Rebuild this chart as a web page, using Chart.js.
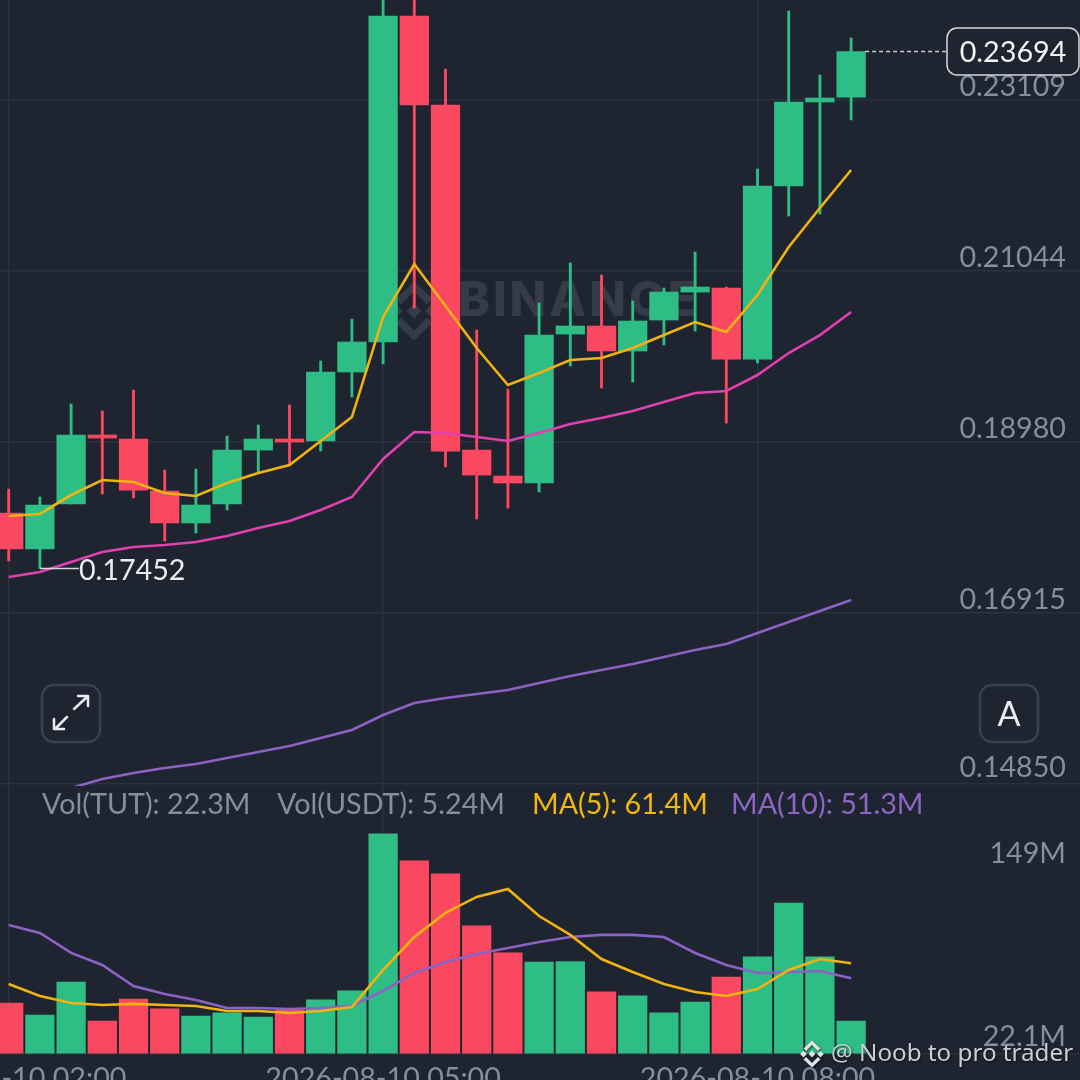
<!DOCTYPE html>
<html>
<head>
<meta charset="utf-8">
<script src="https://cdn.jsdelivr.net/npm/chart.js@4"></script>
<style>
html,body{margin:0;padding:0;background:#1f2530;width:1080px;height:1080px;overflow:hidden}
canvas{position:absolute;left:0;display:block}
#price{top:0}
#volume{top:786px}
</style>
</head>
<body>
<canvas id="price" width="1080" height="786"></canvas>
<canvas id="volume" width="1080" height="294"></canvas>
<script>
const times = ["2026-08-10 02:00","2026-08-10 02:15","2026-08-10 02:30","2026-08-10 02:45","2026-08-10 03:00","2026-08-10 03:15","2026-08-10 03:30","2026-08-10 03:45","2026-08-10 04:00","2026-08-10 04:15","2026-08-10 04:30","2026-08-10 04:45","2026-08-10 05:00","2026-08-10 05:15","2026-08-10 05:30","2026-08-10 05:45","2026-08-10 06:00","2026-08-10 06:15","2026-08-10 06:30","2026-08-10 06:45","2026-08-10 07:00","2026-08-10 07:15","2026-08-10 07:30","2026-08-10 07:45","2026-08-10 08:00","2026-08-10 08:15","2026-08-10 08:30","2026-08-10 08:45"];
const open  = [.18122,.17687,.18230,.19064,.19015,.18387,.18001,.18230,.18882,.19015,.18991,.19824,.20187,.24124,.23049,.18882,.18568,.18484,.20283,.20380,.20078,.20452,.20790,.20839,.19981,.22071,.23085,.23145];
const high  = [.18411,.18315,.19438,.19353,.19607,.18641,.18653,.19051,.19184,.19426,.19957,.20464,.24450,.24420,.23483,.20332,.19619,.20658,.21141,.20996,.20682,.20839,.21273,.20851,.22276,.24184,.23411,.23858];
const low   = [.17542,.17452,.18230,.18351,.18303,.17784,.17880,.18158,.18617,.18701,.18870,.19522,.19921,.20597,.18677,.18049,.18182,.18375,.19897,.19631,.19704,.20150,.20319,.19208,.19933,.21708,.21732,.22868];
const close = [.17687,.18218,.19064,.19027,.18399,.18001,.18218,.18882,.19015,.18979,.19824,.20187,.24124,.23049,.18870,.18580,.18484,.20271,.20380,.20078,.20440,.20790,.20851,.19981,.22071,.23085,.23133,.23694];
const maYellow = [.18085,.18110,.18339,.18520,.18496,.18363,.18327,.18484,.18605,.18701,.18991,.19281,.20489,.21129,.20621,.20114,.19667,.19812,.19969,.19993,.20114,.20271,.20428,.20307,.20754,.21334,.21805,.22264];
const maPink   = [.17349,.17409,.17530,.17651,.17711,.17735,.17771,.17844,.17940,.18025,.18158,.18315,.18774,.19100,.19088,.19039,.18991,.19088,.19196,.19269,.19353,.19462,.19571,.19595,.19788,.20054,.20271,.20549];
const maPurple = [.14644,.14716,.14801,.14909,.14982,.15042,.15091,.15163,.15235,.15308,.15405,.15501,.15682,.15827,.15888,.15936,.15984,.16069,.16153,.16226,.16298,.16383,.16467,.16540,.16673,.16805,.16938,.17071];
const volume = [34.5,26.4,48.7,22.3,37.2,30.5,25.7,27.8,25.0,29.8,36.6,42.7,149,130.7,121.9,86.7,68.4,62.3,62.5,42.0,39.3,27.8,35.2,52.1,65.7,102.2,65.7,22.3];
const volMa5  = [47.4,39.3,34.5,33.2,33.9,33.2,32.5,29.1,29.1,27.8,29.1,31.8,56.9,79.2,95.5,106.3,111.7,93.4,80.6,64.3,55.5,47.4,42.0,39.3,44.0,56.9,64.3,61.4];
const volMa10 = [87.3,81.9,68.4,60.3,46.0,40.6,36.6,31.1,31.1,30.5,31.1,32.5,42.7,54.8,62.3,67.7,71.8,75.8,79.2,80.6,80.6,79.2,68.4,60.3,54.8,55.5,56.2,51.3];
const priceTicks = [.23109,.21044,.18980,.16915,.14850];
const priceTickLabels = ["0.23109","0.21044","0.18980","0.16915","0.14850"];
const volumeTicks = [149,22.1,0];
const volumeTickLabels = ["149M","22.1M",""];
const timeTickIndexes = [0,12,24];
const lastPrice = "0.23694";
const lowLabel = "0.17452";
const legendTexts = [["Vol(TUT): 22.3M",42,"#848e9c"],["Vol(USDT): 5.24M",277,"#848e9c"],["MA(5): 61.4M",532,"#f0b90b"],["MA(10): 51.3M",731,"#8e67c6"]];

const BG="#1f2530", GRID="#2c323d", UP="#2ebd85", DOWN="#fb4861", YEL="#f0b310", PINK="#e23fb0", PUR="#8c62c4", GREY="#848e9c";
const FONT="Lato", FS=28.7;
Chart.defaults.font.family=FONT;
const colors = open.map((o,i)=>close[i]>=o?UP:DOWN);
const xs = v => v.map((y,i)=>({x:i,y}));
const xOpts = {
  type:'linear', min:-0.2788, max:34.336, offset:false,
  border:{display:false},
  grid:{color:GRID,lineWidth:1.5,drawTicks:false,offset:false},
  afterBuildTicks:s=>{s.ticks=timeTickIndexes.map(value=>({value}))},
};
function wm(ctx,x,y,s,color){
  ctx.save();ctx.translate(x,y);ctx.scale(s,s);ctx.fillStyle=color;
  const d=(cx,cy,r)=>{ctx.beginPath();ctx.moveTo(cx,cy-r);ctx.lineTo(cx+r,cy);ctx.lineTo(cx,cy+r);ctx.lineTo(cx-r,cy);ctx.closePath();ctx.fill()};
  d(0,0,4);d(-10,0,4);d(10,0,4);
  const chev=(sgn)=>{ctx.beginPath();ctx.moveTo(0,sgn*16);ctx.lineTo(10,sgn*6.5);ctx.lineTo(7,sgn*3.5);ctx.lineTo(0,sgn*10.5);ctx.lineTo(-7,sgn*3.5);ctx.lineTo(-10,sgn*6.5);ctx.closePath();ctx.fill()};
  chev(-1);chev(1);
  ctx.restore();
}
function rr(ctx,x,y,w,h,r){ctx.beginPath();ctx.roundRect(x,y,w,h,r)}

const pricePlugin={id:'priceOverlay',
  beforeDatasetsDraw(c){
    const ctx=c.ctx;ctx.save();
    wm(ctx,414,311,1.85,"#363c47");
    ctx.fillStyle="#363c47";ctx.font="800 48px Inter";ctx.textBaseline="middle";ctx.textAlign="left";
    ctx.letterSpacing="3px";
    ctx.fillText("BINANCE",458,302);
    ctx.restore();
  },
  afterDatasetsDraw(c){
    const ctx=c.ctx,x=c.scales.x,y=c.scales.y;ctx.save();
    const li=low.indexOf(Math.min(...low));
    const lx=x.getPixelForValue(li),ly=y.getPixelForValue(low[li]);
    ctx.strokeStyle="#d5d8dc";ctx.lineWidth=1.5;
    ctx.beginPath();ctx.moveTo(lx,ly);ctx.lineTo(lx+39,ly);ctx.stroke();
    ctx.fillStyle="#eaecef";ctx.font=FS+"px "+FONT;ctx.textBaseline="middle";ctx.textAlign="left";
    ctx.fillText(lowLabel,lx+39,ly+2);
    const last=y.getPixelForValue(close[close.length-1]);
    const lastX=x.getPixelForValue(close.length-1);
    ctx.setLineDash([4,3]);ctx.strokeStyle="#c9ccd1";ctx.beginPath();ctx.moveTo(lastX+14,last);ctx.lineTo(947,last);ctx.stroke();ctx.setLineDash([]);
    rr(ctx,947,28,132,47,10);ctx.fillStyle=BG;ctx.fill();ctx.strokeStyle="#d5d8dc";ctx.lineWidth=1.5;ctx.stroke();
    ctx.fillStyle="#f3f4f6";ctx.textAlign="center";ctx.fillText(lastPrice,1013,53);
    rr(ctx,42,685,58,57,12);ctx.strokeStyle="#3a404c";ctx.lineWidth=2.5;ctx.stroke();
    rr(ctx,980,685,58,57,12);ctx.stroke();
    ctx.strokeStyle="#eaecef";ctx.lineWidth=2.5;ctx.lineCap="round";ctx.lineJoin="round";
    ctx.beginPath();ctx.moveTo(74,709);ctx.lineTo(87,697);ctx.moveTo(78,696);ctx.lineTo(88,696);ctx.lineTo(88,706);
    ctx.moveTo(67,717);ctx.lineTo(55,729);ctx.moveTo(54,719);ctx.lineTo(54,729);ctx.lineTo(64,729);ctx.stroke();
    ctx.fillStyle="#eaecef";ctx.font="34px "+FONT;ctx.textAlign="center";ctx.fillText("A",1009,715);
    ctx.restore();
  }};
const volPlugin={id:'volOverlay',
  afterDraw(c){
    const ctx=c.ctx;ctx.save();
    ctx.font=FS+"px "+FONT;ctx.textBaseline="middle";ctx.textAlign="left";
    legendTexts.forEach(t=>{ctx.fillStyle=t[2];ctx.fillText(t[0],t[1],19)});
    ctx.shadowColor="rgba(0,0,0,.6)";ctx.shadowBlur=2;ctx.shadowOffsetX=1;ctx.shadowOffsetY=1;
    wm(ctx,812,268,0.85,"#dfe2e6");
    ctx.fillStyle="#c9ced6";ctx.font='24.2px "Noto Sans"';
    ctx.fillText("@ Noob to pro trader",831,268);
    ctx.restore();
  }};

new Chart(document.getElementById('price'),{
  data:{datasets:[
    {type:'line',data:xs(maYellow),borderColor:YEL,borderWidth:2.6,pointRadius:0,tension:0,order:1},
    {type:'line',data:xs(maPink),borderColor:PINK,borderWidth:2.6,pointRadius:0,tension:0,order:2},
    {type:'line',data:xs(maPurple),borderColor:PUR,borderWidth:2.6,pointRadius:0,tension:0,order:3},
    {type:'bar',data:open.map((o,i)=>({x:i,y:[o,close[i]]})),backgroundColor:colors,barThickness:28.6,grouped:false,order:4},
    {type:'bar',data:open.map((o,i)=>({x:i,y:[low[i],high[i]]})),backgroundColor:colors,barThickness:2.2,grouped:false,order:5},
  ]},
  options:{responsive:false,animation:false,devicePixelRatio:1,
    layout:{padding:0},
    plugins:{legend:{display:false},tooltip:{enabled:false}},
    scales:{
      x:{...xOpts,ticks:{display:false},afterFit:s=>{s.height=0;s.paddingLeft=0;s.paddingRight=0}},
      y:{type:'linear',position:'right',min:.14825,max:.24317,
        border:{display:false},
        grid:{color:GRID,lineWidth:1.5,drawTicks:false},
        afterBuildTicks:s=>{s.ticks=priceTicks.map(value=>({value}))},
        afterFit:s=>{s.width=0;s.paddingTop=0;s.paddingBottom=0},
        ticks:{mirror:true,padding:-14,color:GREY,autoSkip:false,
          font:ctx=>({family:FONT,size:FS,lineHeight:ctx.index===4?'33px':'27px'}),
          callback:(v,i)=>[priceTickLabels[i],""]}
      }
    }
  },
  plugins:[pricePlugin]
});

new Chart(document.getElementById('volume'),{
  data:{datasets:[
    {type:'line',data:xs(volMa5),borderColor:YEL,borderWidth:2.6,pointRadius:0,tension:0,order:1},
    {type:'line',data:xs(volMa10),borderColor:PUR,borderWidth:2.6,pointRadius:0,tension:0,order:2},
    {type:'bar',data:xs(volume),backgroundColor:colors,barThickness:28.6,grouped:false,order:3},
  ]},
  options:{responsive:false,animation:false,devicePixelRatio:1,
    layout:{padding:0},
    plugins:{legend:{display:false},tooltip:{enabled:false}},
    scales:{
      x:{...xOpts,
        afterFit:s=>{s.height=26;s.paddingLeft=0;s.paddingRight=0},
        ticks:{color:GREY,padding:8,autoSkip:false,maxRotation:0,font:{size:FS},
          callback:v=>times[v]}},
      y:{type:'linear',position:'right',min:0,max:181.4,
        border:{display:false},
        grid:{color:ctx=>ctx.tick&&ctx.tick.value===0?GRID:'transparent',lineWidth:1.5,drawTicks:false},
        afterBuildTicks:s=>{s.ticks=volumeTicks.map(value=>({value}))},
        afterFit:s=>{s.width=0;s.paddingTop=0;s.paddingBottom=0},
        ticks:{mirror:true,padding:-14,color:GREY,autoSkip:false,
          font:ctx=>({family:FONT,size:FS,lineHeight:ctx.index===0?'39px':'30px'}),
          callback:(v,i)=>["",volumeTickLabels[i]]}
      }
    }
  },
  plugins:[volPlugin]
});
</script>
</body>
</html>
